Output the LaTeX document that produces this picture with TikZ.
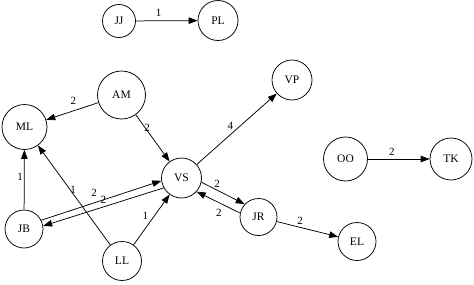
\documentclass[tikz,border=0pt]{standalone}
\usepackage{fontspec}
\setmainfont{Liberation Serif}
\usepackage{tikz}
\usetikzlibrary{arrows.meta,positioning}

\tikzset{
  vtx/.style={circle, draw, line width=0.75pt, inner sep=0pt, minimum size=39pt,
    font=\fontsize{11.5}{13}\selectfont},
  lbl/.style={inner sep=1pt, font=\fontsize{11}{13}\selectfont},
  arr/.style={line width=0.75pt, -{Triangle[length=9pt,width=6.5pt]}}
}

\begin{document}
\begin{tikzpicture}[x=1pt, y=-1pt]
  \useasboundingbox (0,0) rectangle (474,284);

  % people
  \node[vtx, minimum size=33pt] (JJ) at (119,21) {JJ};
  \node[vtx, minimum size=40pt] (PL) at (218,20.5) {PL};
  \node[vtx, minimum size=48pt] (AM) at (121.5,95) {AM};
  \node[vtx, minimum size=40pt] (VP) at (292,80) {VP};
  \node[vtx, minimum size=45pt] (ML) at (24.5,127) {ML};
  \node[vtx, minimum size=40pt] (VS) at (181.5,178) {VS};
  \node[vtx, minimum size=44pt] (OO) at (345.5,159) {OO};
  \node[vtx, minimum size=42pt] (TK) at (451,159) {TK};
  \node[vtx, minimum size=38pt] (JB) at (24,229) {JB};
  \node[vtx, minimum size=39pt] (LL) at (122,261) {LL};
  \node[vtx, minimum size=37pt] (JR) at (258.5,217) {JR};
  \node[vtx, minimum size=38pt] (EL) at (357,241.5) {EL};

  % weighted links
  \draw[arr] (JJ) -- node[lbl, pos=0.37, above=3.2pt] {1} (PL);
  \draw[arr] (AM) -- node[lbl, pos=0.48, above=5pt] {2} (ML);
  \draw[arr] (AM) -- node[lbl, pos=0.28, xshift=2pt] {2} (VS);
  \draw[arr] (VS) -- node[lbl, pos=0.42, above=4.2pt] {4} (VP);
  \draw[arr] (OO) -- node[lbl, pos=0.39, above=2.5pt] {2} (TK);
  \draw[arr] (JB) -- node[lbl, pos=0.55, left=0pt] {1} (ML);
  \draw[arr] (LL) -- node[lbl, pos=0.55, xshift=2.7pt] {1} (ML);
  \draw[arr] (JB.27) -- node[lbl, pos=0.44, above=5.2pt] {2} (VS.188);
  \draw[arr] (VS.209) -- node[lbl, pos=0.5, above=1.7pt] {2} (JB.9);
  \draw[arr] (LL) -- node[lbl, pos=0.58, left=5pt] {1} (VS);
  \draw[arr] (VS.348) -- node[lbl, pos=0.36, above=1.2pt] {2} (JR.137);
  \draw[arr] (JR.168) -- node[lbl, pos=0.49, below=5pt] {2} (VS.318);
  \draw[arr] (JR) -- node[lbl, pos=0.38, above=1.7pt] {2} (EL);
\end{tikzpicture}
\end{document}
